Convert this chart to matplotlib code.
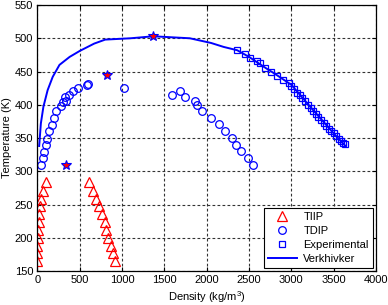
import numpy as np
import matplotlib
matplotlib.use("Agg")
import matplotlib.pyplot as plt

plt.rcParams['font.family'] = ['Liberation Sans', 'DejaVu Sans']
plt.rcParams['mathtext.fontset'] = 'custom'
plt.rcParams['mathtext.rm'] = 'Liberation Sans'

# TIIP (two branches)
rho_tiip = [0, 0, 0, 5, 10, 15, 20, 30, 40, 60, 105,
            913, 893, 866, 838, 811, 795, 760, 724, 692, 661, 609]
T_tiip = [165, 177, 188, 200, 212, 224, 236, 248, 259, 271, 284,
          165, 177, 188, 200, 212, 224, 236, 248, 259, 271, 284]

# TDIP
rho_tdip = [38, 60, 80, 97, 116, 140, 168, 190, 220, 274, 305, 325, 335,
            370, 425, 480, 590, 600, 1020,
            1595, 1690, 1746, 1856, 1880, 1950, 2050, 2150, 2212, 2294,
            2345, 2400, 2483, 2547]
T_tdip = [310, 320, 329, 339, 348, 360, 370, 380, 390, 398, 404, 411, 406,
          415, 420, 425, 430, 431, 425,
          415, 420, 411, 406, 400, 391, 380, 371, 360, 350,
          340, 330, 320, 310]

# Experimental
rho_exp = [2357, 2448, 2515, 2590, 2633, 2692, 2763, 2831, 2897, 2968, 3000,
           3035, 3070, 3100, 3130, 3160, 3195, 3230, 3260, 3290, 3320, 3350,
           3380, 3410, 3440, 3470, 3500, 3530, 3560, 3585, 3610, 3631]
T_exp = [483, 477, 471, 466, 463, 456, 450, 443, 437, 432, 428,
         423, 418, 414, 410, 405, 400, 395, 390, 386, 381, 377,
         372, 368, 364, 361, 357, 353, 349, 346, 343, 341]

# Verkhivker
rho_verk = [20, 40, 70, 120, 180, 260, 380, 500, 670, 800, 1100, 1370, 1800,
            2050, 2200, 2360, 2500, 2700, 2800, 3000, 3250, 3500, 3640]
T_verk = [338, 372, 397, 422, 442, 460, 472, 481, 492, 498, 500, 503, 500,
          493, 487, 482, 472, 455, 447, 430, 393, 357, 338]

# critical points (stars)
rho_star = [340, 825, 1370]
T_star = [310, 445, 504]

fig = plt.figure(figsize=(3.88, 3.05), dpi=100)
ax = fig.add_axes([0.0966, 0.1115, 0.8724, 0.872])

ax.plot(rho_tiip, T_tiip, '^', mfc='none', mec='r', ms=6.5, mew=0.9, ls='none', label='TIIP')
ax.plot(rho_tdip, T_tdip, 'o', mfc='none', mec='b', ms=5.5, mew=0.9, ls='none', label='TDIP')
ax.plot(rho_exp, T_exp, 's', mfc='none', mec='b', ms=4.8, mew=0.9, ls='none', label='Experimental')
ax.plot(rho_verk, T_verk, '-', color='b', lw=1.4, label='Verkhivker')
ax.plot(rho_star, T_star, '*', mfc='r', mec='b', ms=7.5, mew=0.8, ls='none')

ax.set_xlim(0, 4000)
ax.set_ylim(150, 550)
ax.set_xticks(np.arange(0, 4001, 500))
ax.set_yticks(np.arange(150, 551, 50))
ax.tick_params(direction='in', labelsize=8, length=3, top=True, right=True, pad=3)
ax.grid(True, color='#333333', linestyle=(0, (2.5, 2)), linewidth=0.8)
for s in ax.spines.values():
    s.set_linewidth(0.9)

ax.set_xlabel('Density (kg/m$^3$)', fontsize=8, labelpad=3)
ax.set_ylabel('Temperature (K)', fontsize=8, labelpad=2)

leg = ax.legend(loc='lower right', fontsize=8, fancybox=False, framealpha=1,
                edgecolor='k', handlelength=2.6, handletextpad=0.6, numpoints=1,
                borderaxespad=0.3, labelspacing=0.35, borderpad=0.35)
leg.get_frame().set_linewidth(0.8)

fig.savefig('out.png', dpi=100)
